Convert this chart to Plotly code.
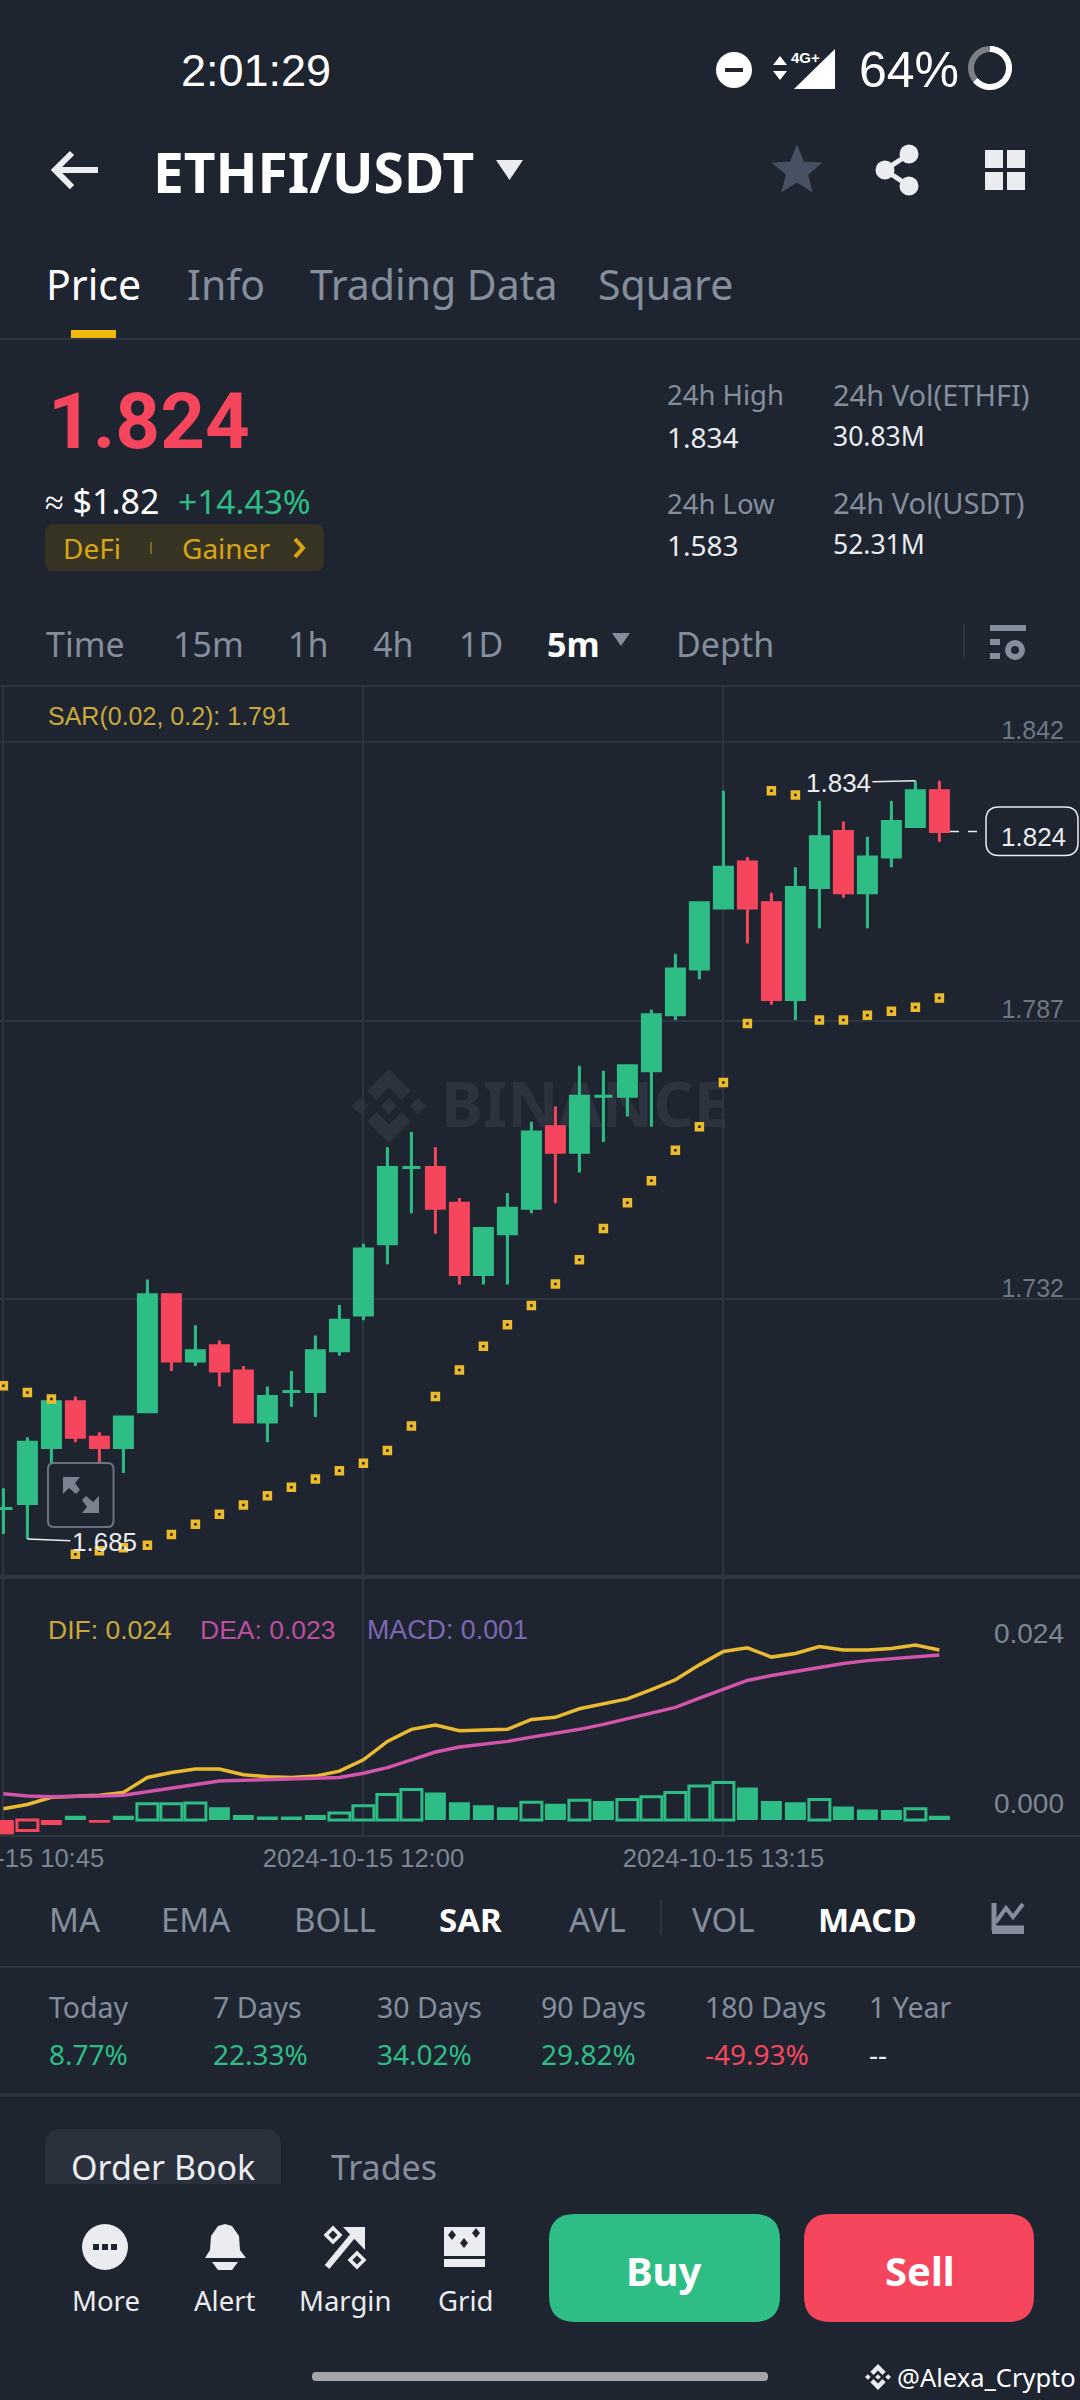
import math
import pandas as pd
import plotly.graph_objects as go

# ---------- data ----------
opens = [1.691,1.692,1.703,1.712,1.705,1.703,1.710,1.733,1.720,1.723,1.718,1.708,1.714,1.714,1.722,1.729,1.743,1.758,1.758,1.751,
         1.737,1.745,1.750,1.766,1.761,1.772,1.772,1.777,1.788,1.797,1.809,1.818,1.810,1.791,1.813,1.824,1.812,1.819,1.825,1.832]
highs = [1.695,1.705,1.712,1.713,1.706,1.709,1.736,1.733,1.727,1.724,1.719,1.715,1.718,1.725,1.731,1.743,1.762,1.765,1.762,1.752,
         1.746,1.753,1.767,1.770,1.778,1.777,1.778,1.789,1.800,1.810,1.832,1.819,1.812,1.817,1.830,1.826,1.823,1.830,1.834,1.834]
lows  = [1.686,1.685,1.698,1.704,1.699,1.698,1.710,1.718,1.719,1.715,1.708,1.704,1.711,1.709,1.721,1.728,1.739,1.749,1.745,1.735,
         1.735,1.735,1.749,1.751,1.757,1.763,1.768,1.766,1.787,1.795,1.809,1.802,1.790,1.787,1.805,1.811,1.805,1.817,1.825,1.822]
closes= [1.691,1.704,1.712,1.705,1.703,1.709,1.733,1.720,1.722,1.718,1.708,1.713,1.714,1.722,1.728,1.742,1.758,1.758,1.750,1.737,
         1.746,1.750,1.765,1.761,1.772,1.772,1.778,1.788,1.797,1.810,1.817,1.809,1.791,1.813,1.823,1.812,1.819,1.826,1.832,1.824]
sar   = [1.7151,1.7138,1.7125,1.6820,1.6827,1.6833,1.6838,1.6859,1.6879,1.6899,1.6917,1.6935,1.6952,1.6968,1.6984,1.6999,1.7024,1.7072,1.7130,1.7182,
         1.7229,1.7271,1.7309,1.7351,1.7399,1.7460,1.7511,1.7554,1.7614,1.7660,1.7747,1.7863,1.8320,1.8312,1.7870,1.7870,1.7879,1.7887,1.7895,1.7913]
dif   = [0.0016,0.0022,0.0032,0.0034,0.0035,0.0039,0.0060,0.0067,0.0072,0.0072,0.0064,0.0061,0.0060,0.0062,0.0069,0.0085,0.0111,0.0128,0.0134,0.0126,
         0.0127,0.0128,0.0142,0.0145,0.0157,0.0164,0.0171,0.0184,0.0198,0.0219,0.0238,0.0243,0.0230,0.0235,0.0245,0.0240,0.0240,0.0242,0.0247,0.0240]
dea   = [0.0037,0.0034,0.0033,0.0033,0.0034,0.0035,0.0040,0.0046,0.0051,0.0055,0.0056,0.0057,0.0057,0.0058,0.0060,0.0066,0.0074,0.0085,0.0096,0.0103,
         0.0107,0.0111,0.0117,0.0122,0.0128,0.0135,0.0143,0.0151,0.0159,0.0172,0.0185,0.0197,0.0204,0.0210,0.0216,0.0221,0.0225,0.0228,0.0231,0.0233]
hist  = [-0.0021,-0.0015,-0.0007,0.0006,-0.0004,0.0006,0.0023,0.0023,0.0024,0.0018,0.0007,0.0005,0.0005,0.0007,0.0010,0.0020,0.0036,0.0043,0.0039,0.0025,
         0.0021,0.0018,0.0025,0.0023,0.0028,0.0027,0.0029,0.0033,0.0039,0.0048,0.0053,0.0046,0.0027,0.0025,0.0029,0.0019,0.0015,0.0014,0.0016,0.0006]
hist_hollow = [0,1,0,0,0,0,1,1,1,0,0,0,0,0,1,1,1,1,0,0,0,0,1,0,1,0,1,1,1,1,1,0,0,0,1,0,0,0,1,0]
times = pd.date_range("2024-10-15 10:45", periods=40, freq="5min")
price_grid = [1.8416, 1.7868, 1.7321, 1.6776]
price_labels = ["1.842", "1.787", "1.732", "1.677"]
time_ticks = [times[0], times[15], times[30]]
time_labels = ["2024-10-15 10:45", "2024-10-15 12:00", "2024-10-15 13:15"]

# ---------- style ----------
BG = "#1e2530"; GRID = "#2e3541"; GREEN = "#2ebd85"; RED = "#f6465d"; GRAY = "#848e9c"; YEL = "#f0b90b"
W, H = 1080, 2400
CHART = "Liberation Sans"; UI = "Noto Sans"
X = lambda p: p / W
Y = lambda p: 1 - p / H
step = pd.Timedelta(minutes=5)
x0 = times[0] - step * (3.4 / 24)
x1 = times[0] + step * ((W - 3.4) / 24)

fig = go.Figure()
fig.add_trace(go.Candlestick(x=times, open=opens, high=highs, low=lows, close=closes,
    increasing=dict(line=dict(color=GREEN, width=3), fillcolor=GREEN),
    decreasing=dict(line=dict(color=RED, width=3), fillcolor=RED),
    whiskerwidth=0, hoverinfo="skip", xaxis="x", yaxis="y"))
fig.add_trace(go.Scatter(x=times, y=sar, mode="markers", hoverinfo="skip",
    marker=dict(symbol="square", size=6, color="#1b1c20", line=dict(color="#ecbb2c", width=3.5))))
fill_col = [("rgba(0,0,0,0)" if h else (GREEN if v >= 0 else RED)) for v, h in zip(hist, hist_hollow)]
line_col = [(GREEN if v >= 0 else RED) for v in hist]
line_w = [3 if h else 0 for h in hist_hollow]
fig.add_trace(go.Bar(x=times, y=hist, width=step.total_seconds() * 1000 * 0.875, xaxis="x2", yaxis="y2",
    marker=dict(color=fill_col, line=dict(color=line_col, width=line_w)), hoverinfo="skip"))
fig.add_trace(go.Scatter(x=times, y=dif, mode="lines", xaxis="x2", yaxis="y2", hoverinfo="skip",
    line=dict(color="#eabb30", width=3.5)))
fig.add_trace(go.Scatter(x=times, y=dea, mode="lines", xaxis="x2", yaxis="y2", hoverinfo="skip",
    line=dict(color="#d354ab", width=3.5)))

# ---------- helpers ----------
shapes, notes = [], []

def T(text, x, y, size, color="#ffffff", anchor="left", family=UI, bold=False):
    notes.append(dict(text=f"<b>{text}</b>" if bold else text, x=X(x), y=Y(y), xref="paper", yref="paper",
        xanchor=anchor, yanchor="middle", showarrow=False, borderpad=0,
        font=dict(size=size, color=color, family=family)))

def poly(pts, fill=None, line=None, width=0, close=True, layer="above"):
    d = "M " + " L ".join(f"{X(a):.5f},{Y(b):.5f}" for a, b in pts) + (" Z" if close else "")
    shapes.append(dict(type="path", path=d, xref="paper", yref="paper", layer=layer,
        fillcolor=fill if fill else "rgba(0,0,0,0)", line=dict(color=line if line else "rgba(0,0,0,0)", width=width)))

def rrect(x0, y0, x1, y1, r, fill=None, line=None, width=0, top_only=False):
    def q(a, b, c, d): return f"Q {X(a):.5f},{Y(b):.5f} {X(c):.5f},{Y(d):.5f}"
    L = lambda a, b: f"L {X(a):.5f},{Y(b):.5f}"
    d = f"M {X(x0+r):.5f},{Y(y0):.5f} " + L(x1-r, y0) + " " + q(x1, y0, x1, y0+r)
    if top_only:
        d += " " + L(x1, y1) + " " + L(x0, y1)
    else:
        d += " " + L(x1, y1-r) + " " + q(x1, y1, x1-r, y1) + " " + L(x0+r, y1) + " " + q(x0, y1, x0, y1-r)
    d += " " + L(x0, y0+r) + " " + q(x0, y0, x0+r, y0) + " Z"
    shapes.append(dict(type="path", path=d, xref="paper", yref="paper", layer="above",
        fillcolor=fill if fill else "rgba(0,0,0,0)", line=dict(color=line if line else "rgba(0,0,0,0)", width=width)))

def circle(cx, cy, r, fill=None, line=None, width=0):
    shapes.append(dict(type="circle", xref="paper", yref="paper", x0=X(cx-r), x1=X(cx+r), y0=Y(cy+r), y1=Y(cy-r),
        layer="above", fillcolor=fill if fill else "rgba(0,0,0,0)", line=dict(color=line if line else "rgba(0,0,0,0)", width=width)))

def hline(y, x0=0, x1=W, color=GRID, width=2):
    poly([(x0, y), (x1, y)], line=color, width=width, close=False)

def logo(cx, cy, s, color, layer="above"):
    for dx in (-0.78, 0, 0.78):
        r = 0.22
        poly([(cx+(dx-r)*s, cy), (cx+dx*s, cy-r*s), (cx+(dx+r)*s, cy), (cx+dx*s, cy+r*s)], fill=color, layer=layer)
    for sg in (-1, 1):
        poly([(cx, cy+sg*s), (cx+.59*s, cy+sg*.41*s), (cx+.34*s, cy+sg*.16*s), (cx, cy+sg*.5*s),
              (cx-.34*s, cy+sg*.16*s), (cx-.59*s, cy+sg*.41*s)], fill=color, layer=layer)

# ---------- watermark (under the candles) ----------
logo(389, 1106, 37, "#2c333e", layer="below")
shapes.append(dict(type="rect", xref="paper", yref="paper", x0=X(440), x1=X(730), y0=Y(1140), y1=Y(1072), layer="below",
    fillcolor="rgba(0,0,0,0)", line=dict(width=0),
    label=dict(text="<b>BINANCE</b>", textposition="middle center", font=dict(size=63, color="#2c333e", family=UI))))

# ---------- status bar ----------
T("2:01:29", 180, 70, 45, family=CHART)
T("64%", 858, 70, 50, family=CHART)
circle(734, 70, 18, fill="#ffffff")
poly([(725, 70), (743, 70)], line=BG, width=4, close=False)
poly([(773, 65), (787, 65), (780, 56)], fill="#ffffff")
poly([(773, 71), (787, 71), (780, 80)], fill="#ffffff")
T("<b>4G+</b>", 790, 57, 15, family=CHART)
poly([(835, 49), (835, 89), (794, 89)], fill="#ffffff")
circle(990, 68, 19, line="#7c7f85", width=6)
ang = [(-90 + 360 * 0.64 * i / 40) * math.pi / 180 for i in range(41)]
poly([(990 + 19 * math.cos(a), 68 + 19 * math.sin(a)) for a in ang], line="#ffffff", width=6, close=False)

# ---------- header ----------
poly([(98, 170), (56, 170)], line="#eaecef", width=6, close=False)
poly([(72, 153), (55, 170), (72, 187)], line="#eaecef", width=6, close=False)
T("ETHFI/USDT", 152, 171, 55, bold=True)
poly([(496, 160), (523, 160), (509.5, 180)], fill="#eaecef")
star = []
for i in range(10):
    r = 24 if i % 2 == 0 else 10.5
    a = -math.pi / 2 + i * math.pi / 5
    star.append((797 + r * math.cos(a), 171 + r * math.sin(a)))
poly(star, fill="#465264", line="#465264", width=2)
poly([(909, 154), (885, 170), (909, 186)], line="#eaecef", width=5, close=False)
for a, b in [(909, 154), (885, 170), (909, 186)]:
    circle(a, b, 9.5, fill="#eaecef")
for a, b in [(985, 150), (1007, 150), (985, 172), (1007, 172)]:
    poly([(a, b), (a+18, b), (a+18, b+18), (a, b+18)], fill="#eaecef")

# ---------- tabs ----------
T("Price", 45, 284, 41)
T("Info", 186, 284, 41, GRAY)
T("Trading Data", 309, 284, 41, GRAY)
T("Square", 597, 284, 41, GRAY)
poly([(71, 330), (116, 330), (116, 338), (71, 338)], fill=YEL)
hline(339)

# ---------- quote ----------
T("1.824", 47, 421, 78, RED, family="Roboto", bold=True)
T("≈ $1.82", 44, 501, 34)
T("+14.43%", 177, 501, 33.5, GREEN)
rrect(45, 524, 324, 571, 10, fill="#383424")
T("DeFi", 62, 548, 28, "#d9a514")
poly([(151, 542), (151, 554)], line="#7a6a20", width=2, close=False)
T("Gainer", 181, 548, 28, "#d9a514")
poly([(295, 539), (303, 548), (295, 557)], line="#d9a514", width=4, close=False)
for tx, ty, s, c, z in [("24h High", 666, 395, GRAY, 27.5), ("1.834", 666, 437, "#eaecef", 28), ("24h Low", 666, 503, GRAY, 27.5), ("1.583", 666, 545, "#eaecef", 28),
                     ("24h Vol(ETHFI)", 832, 394, GRAY, 29), ("30.83M", 832, 436, "#eaecef", 26.5), ("24h Vol(USDT)", 832, 502, GRAY, 29), ("52.31M", 832, 544, "#eaecef", 26.5)]:
    T(tx, ty, s, z, c)

# ---------- interval row ----------
for tx, px in [("Time", 45), ("15m", 172), ("1h", 287), ("4h", 372), ("1D", 458), ("Depth", 675)]:
    T(tx, px, 644, 34, GRAY)
T("5m", 546, 644, 34, bold=True)
poly([(612, 633), (630, 633), (621, 646)], fill=GRAY)
poly([(964, 624), (964, 658)], line=GRID, width=2, close=False)
poly([(990, 628), (1026, 628)], line=GRAY, width=6, close=False)
poly([(990, 642), (1000, 642)], line=GRAY, width=6, close=False)
poly([(990, 656), (1000, 656)], line=GRAY, width=6, close=False)
circle(1015, 650, 7, line=GRAY, width=6)

# ---------- chart overlays ----------
T("SAR(0.02, 0.2): 1.791", 47, 716, 25, "#c9a83c", family=CHART)
T("DIF: 0.024", 47, 1630, 26.5, "#c9a83c", family=CHART)
T("DEA: 0.023", 199, 1630, 26.5, "#bb4f9e", family=CHART)
T("MACD: 0.001", 366, 1630, 26.8, "#7d68b3", family=CHART)
notes.append(dict(text="1.834", x=times[38], y=highs[38], xref="x", yref="y", ax=-77, ay=2, showarrow=True, arrowhead=0,
    arrowwidth=1.5, arrowcolor="#eaecef", standoff=0, font=dict(size=26, color="#eaecef", family=CHART)))
notes.append(dict(text="1.685", x=times[1], y=lows[1], xref="x", yref="y", ax=77, ay=3, showarrow=True, arrowhead=0,
    arrowwidth=1.5, arrowcolor="#eaecef", standoff=0, font=dict(size=26, color="#eaecef", family=CHART)))
shapes.append(dict(type="line", xref="paper", yref="y", x0=X(950), x1=X(984), y0=closes[-1], y1=closes[-1], layer="above",
    line=dict(color="#eaecef", width=1.5, dash="dash")))
rrect(986, 807, 1078, 855.5, 13, fill=BG, line="#eaecef", width=1.5)
T("1.824", 1033, 837, 26, "#eaecef", "center", CHART)
rrect(48, 1463, 113.5, 1527, 6, fill=BG, line="#6b7280", width=2)
poly([(63, 1477), (80, 1477), (75, 1483), (80, 1490), (76, 1494), (69, 1488), (63, 1494)], fill="#7a8290")
poly([(99, 1513), (82, 1513), (87, 1507), (82, 1500), (86, 1496), (93, 1502), (99, 1496)], fill="#7a8290")

# ---------- indicator row ----------
for tx, px, hi in [("MA", 48, 0), ("EMA", 160, 0), ("BOLL", 293, 0), ("SAR", 438, 1), ("AVL", 568, 0), ("VOL", 691, 0), ("MACD", 817, 1)]:
    T(tx, px, 1919, 33, "#ffffff" if hi else GRAY, bold=bool(hi))
poly([(661, 1900), (661, 1935)], line=GRID, width=2, close=False)
poly([(994, 1903), (994, 1928), (1024, 1928)], line=GRAY, width=5, close=False)
poly([(992, 1932), (1024, 1932)], line=GRAY, width=4, close=False)
poly([(996, 1922), (1006, 1908), (1013, 1917), (1023, 1904)], line=GRAY, width=4, close=False)
hline(1967)

# ---------- returns ----------
ret_labels = ["Today", "7 Days", "30 Days", "90 Days", "180 Days", "1 Year"]
ret_values = ["8.77%", "22.33%", "34.02%", "29.82%", "-49.93%", "--"]
ret_colors = [GREEN, GREEN, GREEN, GREEN, RED, "#eaecef"]
ret_x = [48, 212, 376, 540, 704, 868]
for a, b, c, px in zip(ret_labels, ret_values, ret_colors, ret_x):
    T(a, px, 2007, 28.5, GRAY)
    T(b, px, 2054, 28, c)
hline(2095, width=3)

# ---------- order book tabs ----------
rrect(45, 2129, 281, 2184, 16, fill="#2a303c", top_only=True)
T("Order Book", 70, 2167, 34, "#eaecef")
T("Trades", 330, 2167, 34, GRAY)

# ---------- bottom bar ----------
ICON = "#eaecef"
circle(105, 2247, 23, fill=ICON)
for dx in (-9, 0, 9):
    poly([(105+dx-3, 2244), (105+dx+3, 2244), (105+dx+3, 2250), (105+dx-3, 2250)], fill=BG)
poly([(205, 2258), (210, 2250), (211, 2236), (218, 2226), (225, 2224), (232, 2226), (239, 2236), (240, 2250), (246, 2258)], fill=ICON)
poly([(212, 2262), (238, 2262), (232, 2270), (218, 2270)], fill=ICON)
poly([(327, 2267), (356, 2232)], line=ICON, width=6, close=False)
poly([(343, 2227), (365, 2227), (365, 2250)], fill=ICON)
for a, b in [(333, 2235), (357, 2260)]:
    poly([(a-7, b), (a, b-7), (a+7, b), (a, b+7)], line=ICON, width=3.5)
poly([(444, 2227), (485, 2227), (485, 2256), (444, 2256)], fill=ICON)
for a, b in [(452, 2235), (464, 2243), (476, 2233)]:
    poly([(a-4, b), (a, b-5), (a+4, b), (a, b+5)], fill=BG)
poly([(444, 2259), (485, 2259), (485, 2267), (444, 2267)], fill=ICON)
for tx, px in [("More", 106), ("Alert", 225), ("Margin", 345), ("Grid", 465)]:
    T(tx, px, 2300, 27.5, "#eaecef", "center")
rrect(549, 2214, 780, 2322, 26, fill=GREEN)
rrect(804, 2214, 1034, 2322, 26, fill=RED)
T("Buy", 664, 2270, 40, "#ffffff", "center", bold=True)
T("Sell", 920, 2270, 40, "#ffffff", "center", bold=True)
rrect(312, 2372, 768, 2381, 4, fill="#a3a5a9")
logo(878, 2377, 13, "#eaecef")
T("@Alexa_Crypto", 896, 2377, 25.5, "#ffffff")

# ---------- axes ----------
ax_common = dict(type="date", range=[x0, x1], tickvals=time_ticks, showgrid=True, gridcolor=GRID, gridwidth=2,
                 zeroline=False, showline=True, linecolor=GRID, linewidth=2, mirror=True, rangeslider=dict(visible=False))
top = Y(687); mid = Y(1576.7); bot = Y(1834.5)
p_scale = 5090
fig.update_layout(
    width=W, height=H, margin=dict(l=0, r=0, t=0, b=0, autoexpand=False), paper_bgcolor=BG, plot_bgcolor="rgba(0,0,0,0)",
    showlegend=False, boxgap=0.25, boxgroupgap=0, bargap=0, hovermode=False, dragmode=False,
    shapes=shapes, annotations=notes,
    xaxis=dict(domain=[0, 1], anchor="y", showticklabels=False, **ax_common),
    xaxis2=dict(domain=[0, 1], anchor="y2", ticktext=time_labels, ticklabeloverflow="allow",
                tickfont=dict(size=25.5, color="#7d8693", family=CHART), ticks="", **ax_common),
    yaxis=dict(domain=[mid, top], side="right", range=[1.834 - (1576.7 - 780.67) / p_scale, 1.834 + (780.67 - 687) / p_scale],
               tickvals=price_grid, ticktext=price_labels, ticklabelposition="inside top", ticks="", ticklabelstandoff=13,
               ticklabelshift=6, showgrid=True, gridcolor=GRID, gridwidth=2, zeroline=False,
               tickfont=dict(size=25, color="#6e7784", family=CHART)),
    yaxis2=dict(domain=[bot, mid], side="right", range=[-(1834.5 - 1820) / 7083, (1820 - 1576.7) / 7083],
                tickvals=[0, 0.024], ticktext=["0.000", "0.024"], ticklabelposition="inside top", ticks="", ticklabelstandoff=13,
                ticklabelshift=3, showgrid=False, zeroline=False,
                tickfont=dict(size=28, color="#7d8693", family=CHART)),
)
fig.write_html("out.html", post_script="document.body.style.margin='0';document.body.style.background='#1e2530';",
               config=dict(displayModeBar=False, staticPlot=True))
